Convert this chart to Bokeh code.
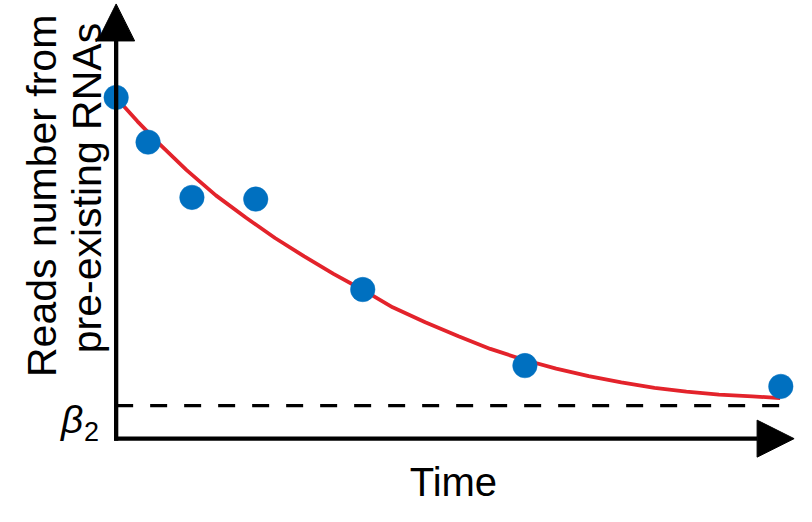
from bokeh.plotting import figure
from bokeh.models import Range1d, Arrow, NormalHead, Label
from bokeh.embed import file_html
from bokeh.resources import INLINE

# ---- data (time in arbitrary units, reads normalised so first point = 100) ----
time_points = [0, 4.8, 11.4, 21.0, 37.1, 61.5, 100]
reads_points = [100, 86.9, 70.7, 70.2, 43.7, 21.4, 15.3]

fit_time = [0, 3.2, 6.5, 10.6, 15.0, 19.5, 23.9, 28.3, 32.7, 37.2, 41.6, 46.5,
            51.5, 56.3, 61.2, 66.2, 71.1, 76.0, 81.0, 85.8, 90.7, 95.7, 99.9]
fit_reads = [99.9, 93.0, 86.4, 78.7, 71.3, 64.8, 58.8, 53.4, 48.3, 43.5, 38.5, 34.1,
             30.0, 26.3, 23.2, 20.5, 18.3, 16.5, 14.9, 13.8, 12.9, 12.4, 11.9]

beta2 = 9.7
x_label = "Time"
y_label_lines = ["Reads number from", "pre-existing RNAs"]

FONT = "Liberation Sans"
X_END = 102.36

p = figure(width=796, height=506, output_backend="svg", toolbar_location=None,
           x_range=Range1d(-17.40, X_END), y_range=Range1d(-19.89, 128.41),
           min_border=0, min_border_left=0, min_border_right=0,
           min_border_top=0, min_border_bottom=0)
p.xaxis.visible = False
p.yaxis.visible = False
p.xgrid.visible = False
p.ygrid.visible = False
p.outline_line_color = None
p.background_fill_color = "white"
p.border_fill_color = "white"

# baseline beta2 (dashed)
p.line([0, X_END], [beta2, beta2], line_color="black", line_width=3.3,
       line_dash="17 17")

# axes with arrow heads
p.add_layout(Arrow(x_start=-0.3, y_start=0, x_end=102.0, y_end=0,
                   line_width=4.3, line_color="black",
                   end=NormalHead(size=37, fill_color="black", line_color="black", line_width=1)))
p.add_layout(Arrow(x_start=0, y_start=-0.6, x_end=0, y_end=127.4,
                   line_width=4.3, line_color="black",
                   end=NormalHead(size=37, fill_color="black", line_color="black", line_width=1)))

# fitted curve
p.line(fit_time, fit_reads, line_color="#E3232B", line_width=3.8)

# data points
p.scatter(time_points, reads_points, size=24.5, fill_color="#0070C0", line_color="#0070C0",
          line_width=0.5)

# labels
p.add_layout(Label(x=-11.21, y=71.16, text=y_label_lines[0], angle=1.5707963,
                   text_align="center", text_baseline="alphabetic",
                   text_font=FONT, text_font_size="41px", text_color="black"))
p.add_layout(Label(x=-4.42, y=73.44, text=y_label_lines[1], angle=1.5707963,
                   text_align="center", text_baseline="alphabetic",
                   text_font=FONT, text_font_size="41px", text_color="black"))
p.add_layout(Label(x=50.74, y=-12.8, text=x_label, text_align="center",
                   text_baseline="alphabetic", text_font=FONT,
                   text_font_size="40px", text_color="black"))
p.add_layout(Label(x=-6.64, y=5.68, text="β", text_align="center",
                   text_baseline="alphabetic", text_font=FONT,
                   text_font_style="italic", text_font_size="39px", text_color="black"))
p.add_layout(Label(x=-3.69, y=1.99, text="2", text_align="center",
                   text_baseline="alphabetic", text_font=FONT,
                   text_font_size="27px", text_color="black"))

open("out.html", "w").write(file_html(p, INLINE))
